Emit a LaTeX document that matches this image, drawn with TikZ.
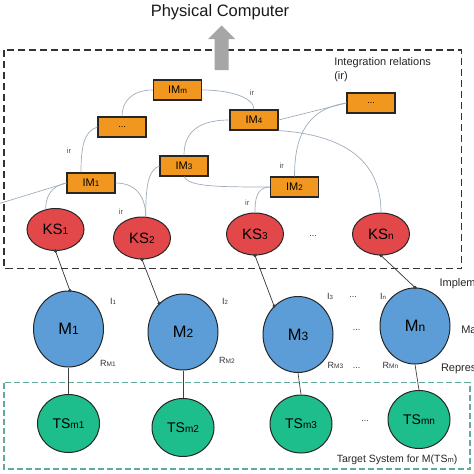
\documentclass[tikz,border=0pt]{standalone}
\usepackage{fontspec}
\setmainfont{Liberation Sans}
\usetikzlibrary{shapes.geometric}
\definecolor{imorange}{RGB}{241,151,32}
\definecolor{ksred}{RGB}{226,71,74}
\definecolor{mblue}{RGB}{92,157,216}
\definecolor{tsgreen}{RGB}{30,190,140}
\definecolor{tsframe}{RGB}{95,172,158}
\definecolor{irline}{RGB}{158,172,188}
\newcommand\lo[2]{{\fontsize{#1}{#1}\selectfont#2}}

\begin{document}
\begin{tikzpicture}[x=1pt, y=-1pt, semithick,
  im/.style={draw=black!85, line width=1.1pt, fill=imorange, minimum width=48pt, minimum height=20pt, inner sep=0pt, font=\fontsize{11}{11}\selectfont},
  ks/.style={ellipse, draw=black!85, line width=1pt, fill=ksred, minimum width=57pt, minimum height=42pt, inner sep=0pt, font=\fontsize{15}{15}\selectfont},
  mm/.style={ellipse, draw=black!85, line width=1pt, fill=mblue, minimum width=70pt, minimum height=76pt, inner sep=0pt, font=\fontsize{16.5}{16.5}\selectfont},
  ts/.style={ellipse, draw=black!85, line width=1pt, fill=tsgreen, minimum width=62pt, minimum height=58pt, inner sep=0pt, font=\fontsize{14}{14}\selectfont},
  ir/.style={irline, line width=.7pt},
  link/.style={black!75, line width=.7pt},
  lbl/.style={font=\fontsize{9}{9}\selectfont, text=black!80},
  irlbl/.style={font=\fontsize{7.5}{7.5}\selectfont, text=black!70},
  txt/.style={font=\fontsize{10.5}{10.5}\selectfont, text=black!85}]
  \useasboundingbox (0,0) rectangle (474,474);
  \draw[black!80, line width=1.4pt, dash pattern=on 7pt off 4pt] (4,50) rectangle (461.5,268.5);
  \draw[tsframe, line width=1.1pt, dash pattern=on 6pt off 3pt] (4,382.5) rectangle (470,469);
  \fill[black!35] (214.5,70) -- (214.5,39) -- (208,39) -- (221.5,25.5) -- (235,39) -- (228.5,39) -- (228.5,70) -- cycle;
  \node[font=\fontsize{16.5}{16.5}\selectfont, text=black!90] (pc) at (220,12) {Physical Computer};
  \node[txt, font=\fontsize{11}{14}\selectfont, align=left, anchor=north west, inner sep=0pt] (irtitle) at (334,57) {Integration relations\\(ir)};
  \node[txt, anchor=west, inner sep=0pt] (tstitle) at (336.5,460) {Target System for M(TS\lo{7.5}{m})};
  \foreach \n/\x/\y/\s in {IMm/177.5/90/m, IM1/91/183/1, IM3/184/166/3, IM4/254/120/4, IM2/294.5/187/2}
    \node[im] (\n) at (\x,\y) {IM\lo{8}{\s}};
  \node[im, font=\fontsize{9}{9}\selectfont] (imdl) at (122,127) {...};
  \node[im, font=\fontsize{9}{9}\selectfont] (imdr) at (371,103) {...};
  \foreach \n/\x/\y/\s in {KS1/55.5/229.5/1, KS2/142/238/2, KS3/255/234/3, KSn/381/234/n}
    \node[ks] (\n) at (\x,\y) {KS\lo{10}{\s}};
  \foreach \n/\x/\y/\s in {M1/68.5/329/1, M2/183/332/2, M3/298/334.5/3, Mn/415/326/n}
    \node[mm] (\n) at (\x,\y) {M\lo{12}{\s}};
  \foreach \n/\x/\y/\s in {TS1/68.5/423.5/m1, TS2/183/427.5/m2, TS3/301/424/m3, TSn/419/419.5/mn}
    \node[ts] (\n) at (\x,\y) {TS\lo{10}{\s}};
  \coordinate (edge) at (0,203.3);
  \draw[ir] (IMm.west) .. controls +(-22,0) and +(0,-14) .. (imdl.north);
  \draw[ir] (IMm.east) .. controls +(28,0) and +(0,-12) .. (IM4.north);
  \draw[ir] (imdl.west) .. controls +(-14,4) and +(0,-24) .. ([xshift=-10pt]IM1.north);
  \draw[ir] (IM4.west) .. controls +(-35,0) and +(0,-20) .. (IM3.north);
  \draw[ir] (IM4.east) -- (imdr.west);
  \draw[ir] (IM4.south east) .. controls +(75,5) and +(0,-45) .. (KSn.north);
  \draw[ir] (imdr.west) .. controls +(-40,6) and +(0,-40) .. (IM2.north);
  \draw[ir] (IM3.south) .. controls +(5,10) and +(-55,0) .. (IM2.west);
  \draw[ir] (IM2.west) .. controls +(-14,0) and +(0,-12) .. (KS3.north);
  \draw[ir] (IM1.west) -- (edge);
  \draw[ir] (IM1.west) .. controls +(-16,3) and +(0,-12) .. (KS1.116);
  \draw[ir] (IM1.east) .. controls +(22,0) and +(0,-18) .. (KS2.80);
  \draw[ir] (IM3.west) .. controls +(-12,4) and +(0,-28) .. (KS2.80);
  \foreach \x/\y in {252/93, 69/151, 281.7/166, 247.3/202.7, 121/211.7}
    \node[irlbl] at (\x,\y) {ir};
  \foreach \a/\b in {KS1/M1.88, KS2/M2.130, KS3/M3.130, KSn/Mn.90}
    \draw[link, fill=black!85] (\a.south) circle (1.3pt) -- (\b) circle (1.3pt);
  \foreach \a/\b in {M1/TS1, M2/TS2, M3/TS3, Mn/TSn}
    \draw[link] (\a.south) -- (\b.north);
  \foreach \x/\y/\s in {113/301.5/1, 225/301/2, 330/296/3, 383/296/n}
    \node[lbl] at (\x,\y) {I\lo{6}{\s}};
  \foreach \x/\y/\s in {108/363.3/M1, 227/360.7/M2, 335.5/365/M3, 390.5/365/Mn}
    \node[lbl] at (\x,\y) {R\lo{6.5}{\s}};
  \foreach \x/\y in {313/236, 353/297, 356.7/330, 356.7/368, 365/420.7}
    \node[lbl] at (\x,\y) {...};
  \node[txt, font=\fontsize{11}{11}\selectfont, anchor=west, inner sep=0pt] (impl) at (439.3,283.3) {Impleme};
  \node[txt, font=\fontsize{11}{11}\selectfont, anchor=west, inner sep=0pt] (ma) at (461,330) {Ma};
  \node[txt, font=\fontsize{11}{11}\selectfont, anchor=west, inner sep=0pt] (repr) at (440.7,369.3) {Repres};
\end{tikzpicture}
\end{document}
